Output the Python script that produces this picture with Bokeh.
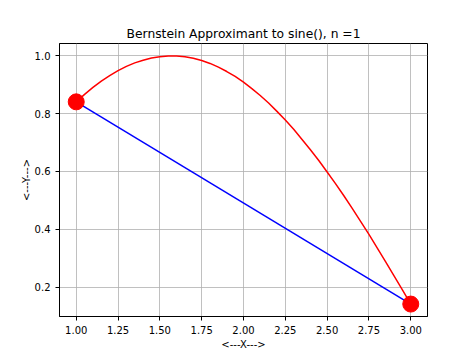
from bokeh.plotting import figure
from bokeh.models import FixedTicker, PrintfTickFormatter, Range1d, Title
from bokeh.embed import file_html
from bokeh.resources import INLINE

# Data
curve_x = [1.0, 1.05, 1.1, 1.15, 1.2, 1.25, 1.3, 1.35, 1.4, 1.45, 1.5, 1.55, 1.6, 1.65,
           1.7, 1.75, 1.8, 1.85, 1.9, 1.95, 2.0, 2.05, 2.1, 2.15, 2.2, 2.25, 2.3, 2.35,
           2.4, 2.45, 2.5, 2.55, 2.6, 2.65, 2.7, 2.75, 2.8, 2.85, 2.9, 2.95, 3.0]
curve_y = [0.841, 0.867, 0.891, 0.913, 0.932, 0.949, 0.964, 0.976, 0.985, 0.993, 0.997,
           1.000, 1.000, 0.997, 0.992, 0.984, 0.974, 0.961, 0.946, 0.929, 0.909, 0.887,
           0.863, 0.837, 0.808, 0.778, 0.746, 0.711, 0.675, 0.638, 0.598, 0.558, 0.516,
           0.472, 0.427, 0.382, 0.335, 0.287, 0.239, 0.190, 0.141]
approx_x = [1.0, 3.0]
approx_y = [0.841, 0.141]
x_ticks = [1.0, 1.25, 1.5, 1.75, 2.0, 2.25, 2.5, 2.75, 3.0]
y_ticks = [0.2, 0.4, 0.6, 0.8, 1.0]

FONT = "DejaVu Sans"

p = figure(width=474, height=355, output_backend="svg", toolbar_location=None,
           x_range=Range1d(0.9, 3.1), y_range=Range1d(0.098, 1.043),
           min_border_left=59, min_border_right=47, min_border_top=43, min_border_bottom=39)
p.title = Title(text="Bernstein Approximant to sine(), n =1", align="center",
                text_font=FONT, text_font_size="12.3px", text_font_style="normal",
                text_color="black", standoff=6)

p.line(curve_x, curve_y, line_color="red", line_width=1.5)
p.line(approx_x, approx_y, line_color="blue", line_width=1.5)
p.scatter(approx_x, approx_y, size=16, fill_color="red", line_color="red")

for ax in (p.xaxis, p.yaxis):
    ax.major_label_text_font = FONT
    ax.major_label_text_font_size = "10px"
    ax.major_label_text_color = "black"
    ax.axis_label_text_font = FONT
    ax.axis_label_text_font_size = "10px"
    ax.axis_label_text_font_style = "normal"
    ax.axis_label_text_color = "black"
    ax.minor_tick_line_color = None
    ax.major_tick_in = 0
    ax.major_tick_out = 4
    ax.axis_line_color = "black"
    ax.major_tick_line_color = "black"

p.xaxis.ticker = FixedTicker(ticks=x_ticks)
p.yaxis.ticker = FixedTicker(ticks=y_ticks)
p.xaxis.formatter = PrintfTickFormatter(format="%.2f")
p.yaxis.formatter = PrintfTickFormatter(format="%.1f")
p.xaxis.axis_label = "<---X--->"
p.yaxis.axis_label = "<---Y--->"
p.xaxis.axis_label_standoff = 2
p.yaxis.axis_label_standoff = 0

p.grid.grid_line_color = "#b0b0b0"
p.grid.grid_line_width = 0.8
p.outline_line_color = "black"
p.outline_line_width = 1
p.background_fill_color = "white"
p.border_fill_color = "white"

open("out.html", "w").write(file_html(p, INLINE))
